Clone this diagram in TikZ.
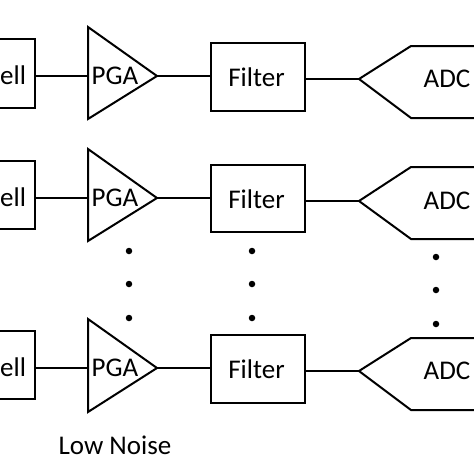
\documentclass[tikz,border=0pt]{standalone}
\usepackage{fontspec}
\setmainfont{Carlito}
\begin{document}
\begin{tikzpicture}[x=1pt,y=-1pt,
  wire/.style={draw, line width=2pt},
  box/.style={draw, line width=2pt, inner sep=0pt, outer sep=0pt},
  lbl/.style={font=\fontsize{27}{32}\selectfont, inner sep=0pt},
  dotmark/.style={fill, circle, minimum size=6.5pt, inner sep=0pt}]
\useasboundingbox (0,0) rectangle (474,474);
\begin{scope}
\clip (0,0) rectangle (474,474);
\foreach \i/\ct/\cb/\ly/\pt/\pb/\ft/\fb/\at/\ab/\ay in
  {1/39/108/76/27/119/43/111/46/118/79,
   2/161/229/198/149/241/165/232/167/239/201,
   3/331/399/368/319/412/335/403/338/410/371}{
  % cell (cut at the left edge)
  \node[box, minimum width=45pt, minimum height={\cb-\ct}] (cell\i) at (12.5,{(\ct+\cb)/2}) {};
  \node[lbl, anchor=base west] (celltxt\i) at (0,{\ly+8}) {ell};
  % PGA triangle
  \coordinate (pin\i) at (88,\ly);
  \coordinate (pout\i) at (157,\ly);
  \draw[wire] (88,\pt) -- (pout\i) -- (88,\pb) -- cycle;
  \node[lbl, anchor=base] (pga\i) at (115,{\ly+8}) {PGA};
  % Filter
  \node[box, minimum width=94pt, minimum height={\fb-\ft}] (fil\i) at (258,{(\ft+\fb)/2}) {};
  \node[lbl, anchor=base] (filtxt\i) at (256.5,{\ay+7.5}) {Filter};
  % ADC
  \coordinate (ain\i) at (359,\ay);
  \draw[wire] (480,\at) -- (411,\at) -- (ain\i) -- (411,\ab) -- (480,\ab);
  \node[lbl, anchor=base] (adc\i) at (447,{\ay+8.5}) {ADC};
  % connectors
  \draw[wire] (pin\i -| cell\i.east) -- (pin\i);
  \draw[wire] (pout\i) -- (pout\i -| fil\i.west);
  \draw[wire] (ain\i -| fil\i.east) -- (ain\i);
}
\end{scope}
% dots
\foreach \k/\y in {1/251,2/284,3/318}{
  \node[dotmark] (dp\k) at (129,\y) {};
  \node[dotmark] (df\k) at (252,\y) {};
}
\foreach \k/\y in {1/257,2/290,3/324}{
  \node[dotmark] (da\k) at (436,\y) {};
}
\node[lbl, anchor=base] (lownoise) at (115,454) {Low Noise};
\end{tikzpicture}
\end{document}
